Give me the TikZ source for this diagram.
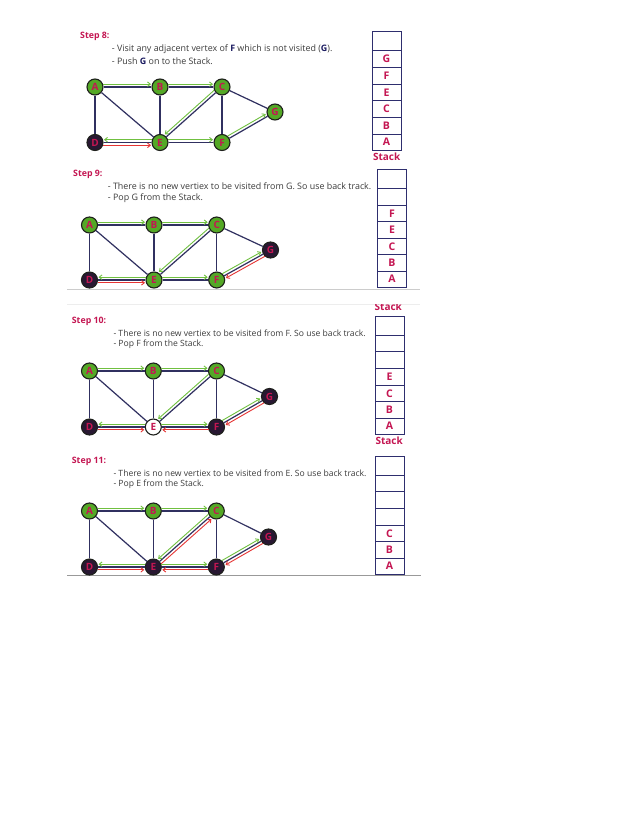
\documentclass[tikz,border=0pt]{standalone}
\usepackage{fontspec}
\setmainfont{Open Sans}
\usetikzlibrary{calc,arrows.meta}
\definecolor{crim}{RGB}{196,22,82}
\definecolor{ngreen}{RGB}{84,168,38}
\definecolor{ndark}{RGB}{40,24,50}
\definecolor{nline}{RGB}{30,32,28}
\definecolor{navy}{RGB}{48,48,96}
\definecolor{snavy}{RGB}{46,46,110}
\definecolor{agreen}{RGB}{112,192,64}
\definecolor{ared}{RGB}{230,52,52}
\definecolor{txtgray}{RGB}{60,60,60}
\definecolor{bnavy}{RGB}{26,26,96}
\newcommand\oarr[4]{\draw[#1] ($(#2)!8pt!(#3)!#4!90:(#3)$) -- ($(#3)!9pt!(#2)!#4!-90:(#2)$);}
\newcommand\gedges[1]{\foreach \u/\v in {A/B,B/C,A/D,A/E,B/E,C/E,C/F,C/G,D/E,E/F,F/G} \draw[edge] (#1\u) -- (#1\v);}
\begin{document}
\begin{tikzpicture}[x=1pt,y=-1pt,
  gn/.style={circle,draw=nline,line width=1.1pt,fill=ngreen,minimum size=16pt,inner sep=0pt,font=\fontsize{10}{10}\selectfont\bfseries,text=crim},
  dn/.style={gn,fill=ndark},
  wn/.style={gn,fill=white},
  edge/.style={draw=navy,line width=1.2pt},
  garr/.style={draw=agreen,line width=0.9pt,-{Straight Barb[length=2.8pt,width=4.5pt]}},
  rarr/.style={draw=ared,line width=0.9pt,-{Straight Barb[length=2.8pt,width=4.5pt]}},
  stk/.style={draw=snavy,line width=0.9pt},
  sletter/.style={font=\fontsize{10.5}{10.5}\selectfont\bfseries,text=crim,inner sep=0pt},
  stklbl/.style={font=\fontsize{10}{10}\selectfont\bfseries,text=crim,inner sep=0pt},
  steplbl/.style={anchor=west,font=\fontsize{8.8}{10}\selectfont\bfseries,text=crim,inner sep=0pt},
  txt/.style={anchor=west,font=\fontsize{8.9}{10}\selectfont,text=txtgray,inner sep=0pt},
  txtb/.style={txt,font=\fontsize{8.6}{10}\selectfont}]
\useasboundingbox (0,0) rectangle (638,826);
\fill[white] (0,0) rectangle (638,826);

% separators
\draw[line width=0.8pt,black!20] (67,289.5) -- (420,289.5);
\draw[line width=0.8pt,black!7] (67,304.5) -- (420,304.5);
\draw[line width=1.6pt,black!40] (67,575.5) -- (421,575.5);

% ---------------- Step 8
\node[steplbl] (t8) at (80,36.5) {Step 8:};
\node[txt] (t8a) at (111.7,49) {- Visit any adjacent vertex of {\bfseries\color{bnavy}F} which is not visited ({\bfseries\color{bnavy}G}).};
\node[txt] (t8b) at (111.7,61) {- Push {\bfseries\color{bnavy}G} on to the Stack.};
\node[gn] (s8A) at (95,87) {A};
\node[gn] (s8B) at (160,87) {B};
\node[gn] (s8C) at (222,87) {C};
\node[gn] (s8G) at (275,112) {G};
\node[dn] (s8D) at (95,142.5) {D};
\node[gn] (s8E) at (160,142.5) {E};
\node[gn] (s8F) at (222,142.5) {F};
\gedges{s8}
\oarr{garr}{s8A}{s8B}{2.8pt}
\oarr{garr}{s8B}{s8C}{2.8pt}
\oarr{garr}{s8C}{s8E}{-2.8pt}
\oarr{garr}{s8E}{s8D}{-2.8pt}
\oarr{rarr}{s8D}{s8E}{-2.8pt}
\oarr{garr}{s8E}{s8F}{2.8pt}
\oarr{garr}{s8F}{s8G}{2.8pt}
\draw[stk] (372,31.7) rectangle (401,150);
\foreach \y in {50.7,67.3,84,100.7,117.3,134} \draw[stk] (372,\y) -- (401,\y);
\foreach \l/\y in {G/59.2,F/75.9,E/92.4,C/109,B/125.7,A/142.2} \node[sletter] (k8\l) at (386.5,\y) {\l};
\node[stklbl] (k8s) at (386.7,156.5) {Stack};

% ---------------- Step 9
\node[steplbl] (t9) at (73,174.3) {Step 9:};
\node[txt] (t9a) at (107.7,186) {- There is no new vertiex to be visited from G. So use back track.};
\node[txt] (t9b) at (107.7,198.3) {- Pop G from the Stack.};
\node[gn] (s9A) at (89.5,225) {A};
\node[gn] (s9B) at (154,225) {B};
\node[gn] (s9C) at (216.7,225) {C};
\node[dn] (s9G) at (270.5,250) {G};
\node[dn] (s9D) at (89.5,280) {D};
\node[gn] (s9E) at (154,280) {E};
\node[gn] (s9F) at (216.7,280) {F};
\gedges{s9}
\oarr{garr}{s9A}{s9B}{2.8pt}
\oarr{garr}{s9B}{s9C}{2.8pt}
\oarr{garr}{s9C}{s9E}{-2.8pt}
\oarr{garr}{s9E}{s9D}{-2.8pt}
\oarr{rarr}{s9D}{s9E}{-2.8pt}
\oarr{garr}{s9E}{s9F}{2.8pt}
\oarr{garr}{s9F}{s9G}{2.8pt}
\oarr{rarr}{s9G}{s9F}{2.8pt}
\draw[stk] (377.3,169) rectangle (406.7,287.3);
\foreach \y in {188.3,205,221.7,238.3,254.3,271} \draw[stk] (377.3,\y) -- (406.7,\y);
\foreach \l/\y in {F/213.3,E/230,C/246.3,B/262.7,A/279.2} \node[sletter] (k9\l) at (392,\y) {\l};
\begin{scope}
\clip (360,304.8) rectangle (420,316);
\node[stklbl] (k9s) at (388.3,307.2) {Stack};
\end{scope}

% ---------------- Step 10
\node[steplbl] (t10) at (71.7,321) {Step 10:};
\node[txtb] (t10a) at (113.3,333.3) {- There is no new vertiex to be visited from F. So use back track.};
\node[txtb] (t10b) at (113.3,344.3) {- Pop F from the Stack.};
\node[gn] (s10A) at (89.5,371) {A};
\node[gn] (s10B) at (153.3,371) {B};
\node[gn] (s10C) at (216.5,371) {C};
\node[dn] (s10G) at (269.5,396.5) {G};
\node[dn] (s10D) at (89.5,427) {D};
\node[wn] (s10E) at (153.3,427) {E};
\node[dn] (s10F) at (216.5,427) {F};
\gedges{s10}
\oarr{garr}{s10A}{s10B}{2.8pt}
\oarr{garr}{s10B}{s10C}{2.8pt}
\oarr{garr}{s10C}{s10E}{-2.8pt}
\oarr{garr}{s10E}{s10D}{-2.8pt}
\oarr{rarr}{s10D}{s10E}{-2.8pt}
\oarr{garr}{s10E}{s10F}{2.8pt}
\oarr{garr}{s10F}{s10G}{2.8pt}
\oarr{rarr}{s10G}{s10F}{2.8pt}
\oarr{rarr}{s10F}{s10E}{2.8pt}
\draw[stk] (375,316.7) rectangle (404,434);
\foreach \y in {335,351.7,368.3,385,401.7,418.3} \draw[stk] (375,\y) -- (404,\y);
\foreach \l/\y in {E/376.7,C/393.3,B/410,A/426.2} \node[sletter] (k10\l) at (389.5,\y) {\l};
\node[stklbl] (k10s) at (389.2,441) {Stack};

% ---------------- Step 11
\node[steplbl] (t11) at (71.7,461) {Step 11:};
\node[txtb] (t11a) at (113.3,473.3) {- There is no new vertiex to be visited from E. So use back track.};
\node[txtb] (t11b) at (113.3,484.3) {- Pop E from the Stack.};
\node[gn] (s11A) at (89.5,511) {A};
\node[gn] (s11B) at (153.3,511) {B};
\node[gn] (s11C) at (216.3,511) {C};
\node[dn] (s11G) at (268.5,537) {G};
\node[dn] (s11D) at (89.5,567) {D};
\node[dn] (s11E) at (153.3,567) {E};
\node[dn] (s11F) at (216.3,567) {F};
\gedges{s11}
\oarr{garr}{s11A}{s11B}{2.8pt}
\oarr{garr}{s11B}{s11C}{2.8pt}
\oarr{garr}{s11C}{s11E}{-2.8pt}
\oarr{garr}{s11E}{s11D}{-2.8pt}
\oarr{rarr}{s11D}{s11E}{-2.8pt}
\oarr{garr}{s11E}{s11F}{2.8pt}
\oarr{garr}{s11F}{s11G}{2.8pt}
\oarr{rarr}{s11G}{s11F}{2.8pt}
\oarr{rarr}{s11F}{s11E}{2.8pt}
\oarr{rarr}{s11E}{s11C}{-2.8pt}
\draw[stk] (375,456.7) rectangle (404,574);
\foreach \y in {475,491.7,508.3,525,541.7,558.3} \draw[stk] (375,\y) -- (404,\y);
\foreach \l/\y in {C/533.3,B/550,A/566.2} \node[sletter] (k11\l) at (389.5,\y) {\l};
\end{tikzpicture}
\end{document}
